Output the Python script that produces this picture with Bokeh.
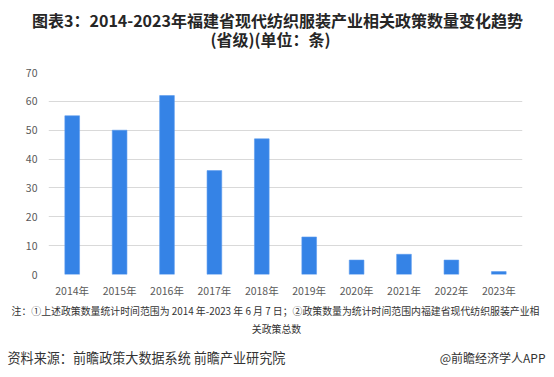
from bokeh.plotting import figure
from bokeh.models import ColumnDataSource, FactorRange, Range1d, Plot
from bokeh.layouts import column
from bokeh.core.properties import value
from bokeh.embed import file_html
from bokeh.resources import INLINE

years = ["2014年", "2015年", "2016年", "2017年", "2018年", "2019年", "2020年", "2021年", "2022年", "2023年"]
counts = [55, 50, 62, 36, 47, 13, 5, 7, 5, 1]
y_ticks = [0, 10, 20, 30, 40, 50, 60, 70]

title1 = "图表3：2014-2023年福建省现代纺织服装产业相关政策数量变化趋势"
title2 = "(省级)(单位：条)"
note1 = "注：①上述政策数量统计时间范围为 2014 年-2023 年 6 月 7 日；②政策数量为统计时间范围内福建省现代纺织服装产业相"
note2 = "关政策总数"
source_txt = "资料来源：前瞻政策大数据系统 前瞻产业研究院"
brand_txt = "@前瞻经济学人APP"

W = 546
FONT = "Noto Sans CJK SC"
extra = {"frame_align": False} if "frame_align" in Plot.properties() else {}


def text_panel(h):
    f = figure(width=W, height=h, output_backend="svg", toolbar_location=None,
               x_range=Range1d(0, W), y_range=Range1d(h, 0),
               x_axis_type=None, y_axis_type=None, min_border=0,
               min_border_left=0, min_border_right=0, min_border_top=0, min_border_bottom=0,
               **extra)
    f.outline_line_color = None
    f.xgrid.grid_line_color = None
    f.ygrid.grid_line_color = None
    f.background_fill_color = "white"
    f.border_fill_color = "white"
    return f


def put(f, txt, x, y, size, align="center", bold=False, color="#333333"):
    f.text(x=[x], y=[y], text=[txt], text_font=value(FONT), text_font_size=value(size),
           text_align=align, text_baseline="middle", text_color=color,
           text_font_style="bold" if bold else "normal")


# --- title panel (page y 0..56)
top = text_panel(56)
put(top, title1, 277, 19, "16px", bold=True, color="#262626")
put(top, title2, 270, 38, "16px", bold=True, color="#262626")

# --- main chart (page y 56..300)
p = figure(width=W, height=244, output_backend="svg", toolbar_location=None,
           x_range=FactorRange(*years, range_padding=0), y_range=Range1d(0, 70),
           min_border_left=48, min_border_right=24, min_border_top=16, min_border_bottom=26,
           **extra)
p.outline_line_color = None
p.background_fill_color = "white"
p.border_fill_color = "white"

src = ColumnDataSource(dict(x=years, y=counts))
p.vbar(x="x", top="y", width=0.31, source=src, fill_color="#3583E6", line_color="#5B9BEE", line_width=0.6)

p.yaxis.ticker = y_ticks
p.ygrid.grid_line_color = "#D9D9D9"
p.ygrid.grid_line_width = 1
p.xgrid.grid_line_color = None
for ax in (p.xaxis[0], p.yaxis[0]):
    ax.axis_line_color = None
    ax.major_tick_line_color = None
    ax.minor_tick_line_color = None
    ax.major_tick_out = 0
    ax.major_tick_in = 0
    ax.minor_tick_out = 0
    ax.minor_tick_in = 0
    ax.major_label_text_color = "#595959"
    ax.major_label_text_font = FONT
    ax.major_label_text_font_size = "10.5px"
p.xaxis.major_label_standoff = 8
p.yaxis.major_label_standoff = 11

# --- notes / source panel (page y 300..369)
bot = text_panel(69)
put(bot, note1, 275, 10, "9.9px")
put(bot, note2, 276, 28, "9.9px")
put(bot, source_txt, 7, 57, "13.1px", align="left", color="#333333")
put(bot, brand_txt, 545, 57, "12px", align="right", color="#333333")

layout = column(top, p, bot, spacing=0)
open("out.html", "w").write(file_html(layout, INLINE))
